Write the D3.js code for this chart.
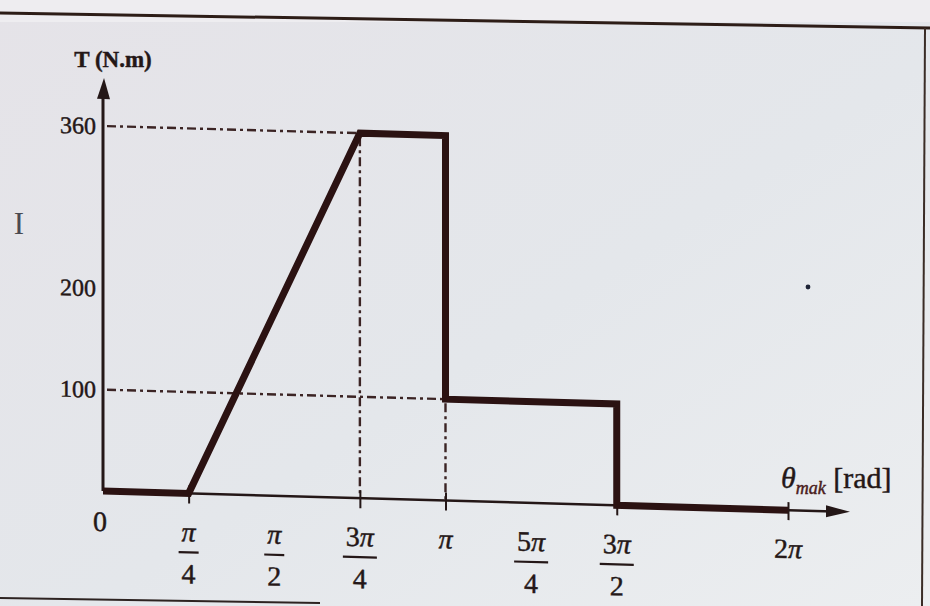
<!DOCTYPE html>
<html>
<head>
<meta charset="utf-8">
<script src="https://cdn.jsdelivr.net/npm/d3@7"></script>
<style>
  body { margin: 0; background: #e6e7eb; }
  svg { display: block; }
  text { stroke: #241717; stroke-width: 0.45px; }
</style>
</head>
<body>
<div id="chart"></div>
<script>
// torque vs crank angle
var PI = Math.PI;

// the thick torque curve (angle in rad, torque in N.m)
var thetaValues = [0, PI / 4, 3 * PI / 4, PI, PI, 3 * PI / 2, 3 * PI / 2, 2 * PI];
var torqueValues = [0, 0, 360, 360, 100, 100, 0, 0];

// x tick labels, written as fractions
var xTickValues = [0, PI / 4, PI / 2, 3 * PI / 4, PI, 5 * PI / 4, 3 * PI / 2, 2 * PI];
var xTickNumerators = ["0", "π", "π", "3π", "π", "5π", "3π", "2π"];
var xTickDenominators = ["", "4", "2", "4", "", "4", "2", ""];
// only some of them have a small tick mark on the axis
var xTickMarks = [PI / 4, 3 * PI / 4, PI, 3 * PI / 2, 2 * PI];

// y tick labels
var yTickValues = [100, 200, 360];

// dash-dot helper lines: [angle, torque]
var guidePoints = [[3 * PI / 4, 360], [PI, 100]];

var svgWidth = 930;
var svgHeight = 606;

var svg = d3.select("#chart")
    .append("svg")
    .attr("width", svgWidth)
    .attr("height", svgHeight);

// background of the photographed screen
var defs = svg.append("defs");
var grad = defs.append("linearGradient")
    .attr("id", "bg")
    .attr("x1", "0").attr("y1", "0")
    .attr("x2", "1").attr("y2", "1");
grad.append("stop").attr("offset", "0%").attr("stop-color", "#e5e3e8");
grad.append("stop").attr("offset", "55%").attr("stop-color", "#e4e7eb");
grad.append("stop").attr("offset", "100%").attr("stop-color", "#eceef0");

svg.append("rect")
    .attr("width", svgWidth)
    .attr("height", svgHeight)
    .attr("fill", "url(#bg)");

svg.append("rect")
    .attr("width", svgWidth)
    .attr("height", 22)
    .attr("fill", "#eeedf0");

// frame lines of the page in the photo
svg.append("line")
    .attr("x1", 0).attr("y1", 13).attr("x2", 930).attr("y2", 28)
    .attr("stroke", "#2d1d17").attr("stroke-width", 3);
svg.append("line")
    .attr("x1", 925).attr("y1", 28).attr("x2", 922).attr("y2", 606)
    .attr("stroke", "#3a2c26").attr("stroke-width", 2);
svg.append("line")
    .attr("x1", 0).attr("y1", 598).attr("x2", 320).attr("y2", 603)
    .attr("stroke", "#2d2321").attr("stroke-width", 2);

// mouse cursor + dust
svg.append("text")
    .attr("x", 19).attr("y", 234)
    .attr("text-anchor", "middle")
    .style("font-family", "'Liberation Serif', serif")
    .style("font-size", "31px")
    .style("stroke", "none")
    .attr("fill", "#4a4a52")
    .text("I");
svg.append("circle").attr("cx", 808).attr("cy", 287).attr("r", 2.4).attr("fill", "#1d2336");

// origin of the plot, the photo is a little skewed so we tilt the group
var originX = 103;
var originY = 491;

var chart = svg.append("g")
    .attr("transform", `translate(${originX},${originY}) skewY(1.6) translate(${-originX},${-originY})`);

var xScale = d3.scaleLinear().domain([0, 2 * PI]).range([originX, 788]);
var yScale = d3.scaleLinear().domain([0, 360]).range([originY, 126]);

var ink = "#241717";

// dash-dot guide lines
guidePoints.forEach(function(p) {
    chart.append("line")
        .attr("x1", xScale(0) + 4).attr("y1", yScale(p[1]))
        .attr("x2", xScale(p[0])).attr("y2", yScale(p[1]))
        .attr("stroke", "#3b2424").attr("stroke-width", 2.4)
        .attr("stroke-dasharray", "9,4,3,4");
    chart.append("line")
        .attr("x1", xScale(p[0])).attr("y1", yScale(p[1]) + 4)
        .attr("x2", xScale(p[0])).attr("y2", yScale(0))
        .attr("stroke", "#3b2424").attr("stroke-width", 2.4)
        .attr("stroke-dasharray", "9,4,3,4");
});

// x axis: ticks from d3, line and arrow by hand
var bottomAxis = d3.axisBottom(xScale)
    .tickValues(xTickMarks)
    .tickFormat("")
    .tickSizeOuter(0);

var xAxisG = chart.append("g")
    .attr("transform", `translate(0, ${yScale(0)})`)
    .call(bottomAxis);
xAxisG.select(".domain").remove();
xAxisG.selectAll(".tick line")
    .attr("y1", -8).attr("y2", 10)
    .attr("stroke", ink).attr("stroke-width", 2);

chart.append("line")
    .attr("x1", xScale(0)).attr("y1", yScale(0))
    .attr("x2", xScale(2 * PI) + 45).attr("y2", yScale(0))
    .attr("stroke", ink).attr("stroke-width", 2.5);
chart.append("path")
    .attr("d", d3.line()([
        [xScale(2 * PI) + 38, yScale(0) - 6],
        [xScale(2 * PI) + 62, yScale(0)],
        [xScale(2 * PI) + 38, yScale(0) + 6]
    ]) + "Z")
    .attr("fill", ink);

// y axis
var leftAxis = d3.axisLeft(yScale)
    .tickValues(yTickValues)
    .tickSize(0)
    .tickPadding(7);

var yAxisG = chart.append("g")
    .attr("transform", `translate(${xScale(0)}, 0)`)
    .call(leftAxis);
yAxisG.select(".domain").remove();
yAxisG.selectAll(".tick text")
    .style("font-family", "'Liberation Serif', serif")
    .style("font-size", "24px")
    .attr("fill", ink);

chart.append("line")
    .attr("x1", xScale(0)).attr("y1", yScale(0))
    .attr("x2", xScale(0)).attr("y2", 92)
    .attr("stroke", ink).attr("stroke-width", 3);
chart.append("path")
    .attr("d", d3.line()([
        [xScale(0) - 6, 99],
        [xScale(0) + 1, 78],
        [xScale(0) + 7, 99]
    ]) + "Z")
    .attr("fill", ink);

// x tick labels as little fractions
var labelG = chart.append("g")
    .style("font-family", "'Liberation Serif', serif")
    .style("font-size", "28px")
    .attr("fill", ink);

function writeNumber(sel, str) {
    // digits upright, pi in italic
    str.split("").forEach(function(ch) {
        sel.append("tspan")
            .style("font-style", ch === "π" ? "italic" : "normal")
            .text(ch);
    });
}

xTickValues.forEach(function(v, i) {
    var cx = xScale(v);
    var base = yScale(0);
    if (i === 0) {
        labelG.append("text")
            .attr("x", cx - 3).attr("y", base + 40)
            .attr("text-anchor", "middle")
            .text(xTickNumerators[i]);
        return;
    }
    var num = labelG.append("text")
        .attr("x", cx).attr("y", base + 48)
        .attr("text-anchor", "middle");
    writeNumber(num, xTickNumerators[i]);

    if (xTickDenominators[i] !== "") {
        var w = num.node().getComputedTextLength() + 6;
        labelG.append("line")
            .attr("x1", cx - w / 2).attr("x2", cx + w / 2)
            .attr("y1", base + 59).attr("y2", base + 59)
            .attr("stroke", ink).attr("stroke-width", 2.2);
        labelG.append("text")
            .attr("x", cx).attr("y", base + 90)
            .attr("text-anchor", "middle")
            .text(xTickDenominators[i]);
    }
});

// torque curve
var torqueLine = d3.line()
    .x(function(d, i) { return xScale(thetaValues[i]); })
    .y(function(d) { return yScale(d); });

chart.append("path")
    .datum(torqueValues)
    .attr("d", torqueLine)
    .attr("fill", "none")
    .attr("stroke", "#2b1212")
    .attr("stroke-width", 7)
    .attr("stroke-linejoin", "miter");

// axis titles
svg.append("text")
    .attr("x", 113).attr("y", 67)
    .attr("text-anchor", "middle")
    .style("font-family", "'Liberation Serif', serif")
    .style("font-size", "23px")
    .style("font-weight", "bold")
    .attr("fill", ink)
    .text("T (N.m)");

var xTitle = svg.append("text")
    .attr("x", 781).attr("y", 488)
    .style("font-family", "'Liberation Serif', serif")
    .style("font-size", "30px")
    .attr("fill", ink);
xTitle.append("tspan").style("font-style", "italic").text("θ");
xTitle.append("tspan")
    .style("font-style", "italic")
    .style("font-size", "18px")
    .style("stroke", "#4a1c1c")
    .attr("dy", 6)
    .attr("fill", "#4a1c1c")
    .text("mak");
xTitle.append("tspan").attr("dy", -6).text(" [rad]");
</script>
</body>
</html>
